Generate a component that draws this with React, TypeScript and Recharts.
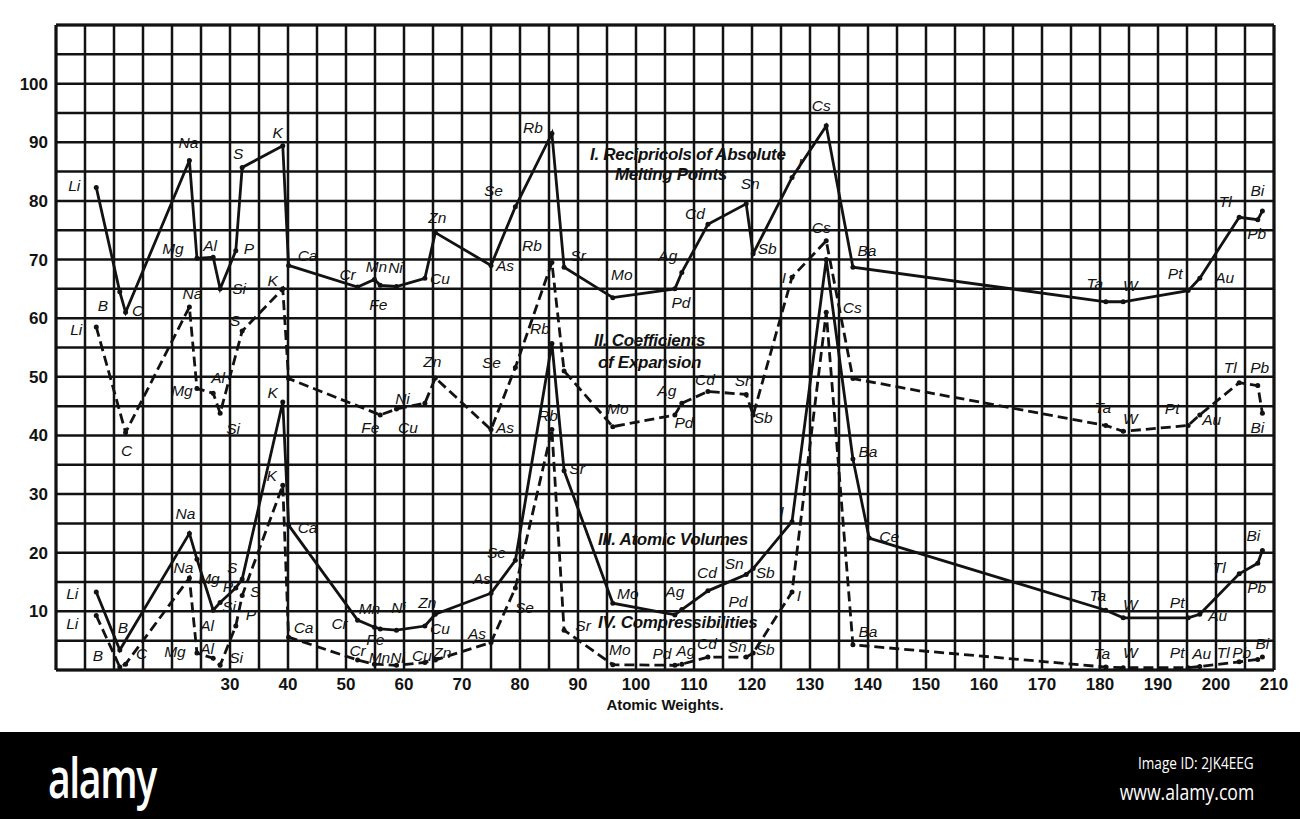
import { LineChart, Line, XAxis, YAxis, CartesianGrid, ReferenceLine } from 'recharts';

// atomic weights used for the horizontal position of every element
const atomicWeights: Record<string, number> = {
  Li: 6.94, B: 11, C: 12, Na: 23, Mg: 24.3, Al: 27.1, Si: 28.3, P: 31, S: 32.1,
  K: 39.1, Ca: 40.1, Cr: 52, Mn: 54.9, Fe: 55.9, Ni: 58.7, Cu: 63.6, Zn: 65.4,
  As: 75, Se: 79.2, Rb: 85.5, Sr: 87.6, Mo: 96, Pd: 106.7, Ag: 107.9, Cd: 112.4,
  Sn: 119, Sb: 120.2, I: 126.9, Cs: 132.8, Ba: 137.4, Ce: 140.2, Ta: 181, W: 184,
  Pt: 195.2, Au: 197.2, Tl: 204, Pb: 207.2, Bi: 208,
};

// I. reciprocals of absolute melting points
const meltingElements = ['Li', 'B', 'C', 'Na', 'Mg', 'Al', 'Si', 'P', 'S', 'K', 'Ca', 'Cr', 'Mn', 'Fe', 'Ni', 'Cu', 'Zn', 'As', 'Se', 'Rb', 'Sr', 'Mo', 'Pd', 'Ag', 'Cd', 'Sn', 'Sb', 'I', 'Cs', 'Ba', 'Ta', 'W', 'Pt', 'Au', 'Tl', 'Pb', 'Bi'];
const meltingValues = [82.3, 64.5, 61, 86.9, 70.2, 70.4, 65, 71.5, 85.7, 89.4, 69, 65.3, 66.6, 65.6, 65.4, 66.8, 74.6, 69, 79, 91.5, 68.7, 63.5, 65, 67.8, 76, 79.5, 71, 84, 92.8, 68.7, 62.8, 62.8, 64.7, 66.8, 77.2, 76.8, 78.3];

// II. coefficients of expansion
const expansionElements = ['Li', 'C', 'Na', 'Mg', 'Al', 'Si', 'S', 'K', 'Ca', 'Fe', 'Ni', 'Cu', 'Zn', 'As', 'Se', 'Rb', 'Sr', 'Mo', 'Pd', 'Ag', 'Cd', 'Sn', 'Sb', 'I', 'Cs', 'Ba', 'Ta', 'W', 'Pt', 'Au', 'Tl', 'Pb', 'Bi'];
const expansionValues = [58.5, 40.5, 61.9, 48, 47.2, 43.8, 57.8, 65, 49.7, 43.5, 44.5, 45.5, 49.8, 41, 51.6, 69.5, 51, 41.5, 43.5, 45.5, 47.5, 47, 43.5, 67, 73.2, 49.7, 41.7, 40.7, 41.7, 43.5, 49, 48.5, 43.8];

// III. atomic volumes
const volumeElements = ['Li', 'B', 'Na', 'Mg', 'Al', 'Si', 'P', 'S', 'K', 'Ca', 'Cr', 'Mn', 'Fe', 'Ni', 'Cu', 'Zn', 'As', 'Se', 'Rb', 'Sr', 'Mo', 'Pd', 'Ag', 'Cd', 'Sn', 'Sb', 'I', 'Cs', 'Ba', 'Ce', 'Ta', 'W', 'Pt', 'Au', 'Tl', 'Pb', 'Bi'];
const volumeValues = [13.3, 3.4, 23.3, 18.9, 10.2, 11.5, 14, 15.5, 45.7, 24.7, 8.5, 7.3, 7, 6.8, 7.5, 9.5, 13.1, 18.7, 55.7, 34, 11.4, 9.4, 10.3, 13.5, 16.3, 17.3, 25.3, 70, 36, 22.5, 10.2, 8.9, 8.9, 9.5, 16.4, 18.2, 20.4];

// IV. compressibilities
const compressElements = ['Li', 'B', 'C', 'Na', 'Mg', 'Al', 'Si', 'P', 'S', 'K', 'Ca', 'Cr', 'Mn', 'Ni', 'Cu', 'Zn', 'As', 'Se', 'Rb', 'Sr', 'Mo', 'Pd', 'Ag', 'Cd', 'Sn', 'Sb', 'I', 'Cs', 'Ba', 'Ta', 'W', 'Pt', 'Au', 'Tl', 'Pb', 'Bi'];
const compressValues = [9.3, 0.5, 1, 15.7, 2.9, 2, 0.8, 7.5, 12.7, 31.5, 5.6, 1.7, 1, 0.8, 1.3, 1.7, 4.7, 14, 41, 6.8, 0.9, 0.8, 1, 2.2, 2.2, 2.9, 13.3, 61, 4.3, 0.5, 0.4, 0.4, 0.6, 1.4, 1.8, 2.2];

const xTickLabels = [30, 40, 50, 60, 70, 80, 90, 100, 110, 120, 130, 140, 150, 160, 170, 180, 190, 200, 210];
const yTickLabels = [10, 20, 30, 40, 50, 60, 70, 80, 90, 100];
const xGridTicks = Array.from({ length: 43 }, (_, i) => i * 5);
const yGridTicks = Array.from({ length: 23 }, (_, i) => i * 5);

// where each element name sits relative to its point (pixels)
type Offsets = Record<string, [number, number]>;
const meltingOffsets: Offsets = {
  Li: [-22, -2], B: [-17, 14], C: [12, -2], Na: [-1, -18], Mg: [-24, -10], Al: [-3, -12], Si: [19, 0],
  P: [13, -2], S: [-4, -14], K: [-5, -13], Ca: [19, -10], Cr: [-10, -13], Mn: [2, -13], Fe: [-2, 19],
  Ni: [-1, -19], Cu: [15, 0], Zn: [2, -15], As: [14, 0], Se: [-22, -16], Rb: [-19, -6], Sr: [14, -12],
  Mo: [9, -23], Pd: [6, 14], Ag: [-14, -17], Cd: [-13, -11], Sn: [4, -20], Sb: [14, -5], I: [8, -14],
  Cs: [-5, -20], Ba: [14, -17], Ta: [-11, -18], W: [7, -16], Pt: [-13, -17], Au: [25, -1],
  Tl: [-14, -16], Pb: [-1, 14], Bi: [-5, -20],
};
const expansionOffsets: Offsets = {
  Li: [-20, 3], C: [1, 18], Na: [3, -14], Mg: [-15, 2], Al: [5, -16], Si: [13, 15], S: [-7, -11],
  K: [-10, -8], Fe: [-10, 13], Ni: [6, -11], Cu: [-17, 24], Zn: [-3, -16], As: [14, -2], Se: [-24, -5],
  Rb: [-20, -17], Mo: [5, -18], Pd: [9, 8], Ag: [-15, -13], Cd: [-3, -12], Sn: [-2, -14], Sb: [10, 3],
  I: [-8, 0], Cs: [-5, -13], Ta: [-3, -18], W: [7, -13], Pt: [-16, -17], Au: [12, 5], Tl: [-9, -15],
  Pb: [2, -18], Bi: [-5, 14],
};
const volumeOffsets: Offsets = {
  Li: [-24, 1], B: [3, -23], Na: [-4, -20], Mg: [12, 19], Al: [-6, 15], Si: [9, 4], P: [-8, -1],
  S: [-10, -12], K: [-10, -10], Ca: [19, 2], Cr: [-18, 3], Mn: [-5, -19], Fe: [-5, 11], Ni: [2, -23],
  Cu: [15, 2], Zn: [-8, -12], As: [-9, -15], Se: [-19, -8], Rb: [-12, -15], Sr: [13, -2], Mo: [15, -10],
  Pd: [63, -13], Ag: [-7, -18], Cd: [-1, -18], Sn: [-12, -11], Sb: [12, 4], I: [-10, -10], Ba: [15, -7],
  Ce: [20, -2], Ta: [-8, -15], W: [7, -13], Pt: [-11, -15], Au: [18, 1], Tl: [-20, -6], Pb: [-1, 24],
  Bi: [-9, -15],
};
const compressOffsets: Offsets = {
  Li: [-24, 8], B: [-22, -12], C: [16, -11], Na: [-6, -10], Mg: [-22, -1], Al: [-6, -10], Si: [16, -8],
  P: [15, -12], S: [13, -4], K: [-11, -10], Ca: [15, -10], Cr: [0, -10], Mn: [5, -7], Ni: [1, -8],
  Cu: [-3, -7], Zn: [7, -8], As: [-14, -9], Se: [9, 20], Rb: [-4, -14], Sr: [19, -5], Mo: [7, -15],
  Pd: [-13, -12], Ag: [4, -14], Cd: [-1, -14], Sn: [-9, -11], Sb: [12, -3], I: [7, 3], Cs: [26, -5],
  Ba: [15, -13], Ta: [-4, -14], W: [7, -15], Pt: [-11, -15], Au: [2, -13], Tl: [-16, -9], Pb: [-16, -7],
  Bi: [0, -14],
};

interface Point {
  el: string;
  w: number;
  v: number;
}

const build = (els: string[], vals: number[]): Point[] =>
  els.map((el, i) => ({ el, w: atomicWeights[el], v: vals[i] }));

const meltingData = build(meltingElements, meltingValues);
const expansionData = build(expansionElements, expansionValues);
const volumeData = build(volumeElements, volumeValues);
const compressData = build(compressElements, compressValues);

const INK = '#121212';
const labelFont = '"Liberation Sans", Arial, sans-serif';

const makeDot = (series: string, offsets: Offsets) => (props: any) => {
  const { cx, cy, payload, index } = props;
  const off = offsets[payload.el];
  return (
    <g key={`${series}-${index}`}>
      <circle cx={cx} cy={cy} r={2.5} fill={INK} />
      {off && (
        <text
          x={cx + off[0]}
          y={cy + off[1]}
          textAnchor="middle"
          dominantBaseline="central"
          fontSize={15.5}
          fontStyle="italic"
          fontFamily={labelFont}
          fill={INK}
        >
          {payload.el}
        </text>
      )}
    </g>
  );
};

const noteStyle = (left: number, top: number): React.CSSProperties => ({
  position: 'absolute',
  left,
  top,
  fontFamily: labelFont,
  fontStyle: 'italic',
  fontWeight: 700,
  fontSize: 17,
  letterSpacing: -0.3,
  color: INK,
  whiteSpace: 'nowrap',
  lineHeight: '18px',
});

export default function App() {
  return (
    <div style={{ position: 'absolute', left: 0, top: 0, width: 1300, height: 819, background: '#fff', overflow: 'hidden' }}>
      <LineChart width={1300} height={730} margin={{ top: 25, right: 26, bottom: 0, left: 0 }}>
        <CartesianGrid stroke={INK} strokeWidth={2.5} />
        <XAxis
          type="number"
          dataKey="w"
          domain={[0, 210]}
          ticks={xGridTicks}
          interval={0}
          tickFormatter={(v: number) => (xTickLabels.includes(v) ? String(v) : '')}
          tickLine={false}
          axisLine={{ stroke: INK, strokeWidth: 3 }}
          tick={{ fill: INK, fontSize: 17, fontWeight: 700, fontFamily: labelFont }}
          height={60}
          label={{ value: 'Atomic Weights.', position: 'insideBottom', offset: 20, fill: INK, fontSize: 15, fontWeight: 700, fontFamily: labelFont }}
        />
        <YAxis
          type="number"
          domain={[0, 110]}
          ticks={yGridTicks}
          interval={0}
          tickFormatter={(v: number) => (yTickLabels.includes(v) ? String(v) : '')}
          tickLine={false}
          axisLine={{ stroke: INK, strokeWidth: 3 }}
          tick={{ fill: INK, fontSize: 17, fontWeight: 700, fontFamily: labelFont }}
          width={56}
        />
        <ReferenceLine y={110} stroke={INK} strokeWidth={3} />
        <ReferenceLine x={210} stroke={INK} strokeWidth={3} />
        <Line data={meltingData} dataKey="v" type="linear" stroke={INK} strokeWidth={2.8} dot={makeDot('m', meltingOffsets)} activeDot={false} isAnimationActive={false} />
        <Line data={expansionData} dataKey="v" type="linear" stroke={INK} strokeWidth={2.8} strokeDasharray="10 5" dot={makeDot('e', expansionOffsets)} activeDot={false} isAnimationActive={false} />
        <Line data={volumeData} dataKey="v" type="linear" stroke={INK} strokeWidth={2.8} dot={makeDot('v', volumeOffsets)} activeDot={false} isAnimationActive={false} />
        <Line data={compressData} dataKey="v" type="linear" stroke={INK} strokeWidth={2.8} strokeDasharray="10 5" dot={makeDot('c', compressOffsets)} activeDot={false} isAnimationActive={false} />
      </LineChart>

      <div style={noteStyle(590, 146)}>I. Recipricols of Absolute</div>
      <div style={noteStyle(615, 166)}>Melting Points</div>
      <div style={noteStyle(594, 332)}>II. Coefficients</div>
      <div style={noteStyle(598, 354)}>of Expansion</div>
      <div style={noteStyle(598, 531)}>III. Atomic Volumes</div>
      <div style={noteStyle(598, 614)}>IV. Compressibilities</div>

      <div style={{ position: 'absolute', left: 0, top: 732, width: 1300, height: 87, background: '#000', color: '#fff', fontFamily: '"Open Sans", sans-serif' }}>
        <div style={{ position: 'absolute', left: 48, top: 6, fontSize: 56, fontWeight: 600, letterSpacing: -2, transform: 'scaleX(0.7)', transformOrigin: 'left top' }}>alamy</div>
        <div style={{ position: 'absolute', right: 46, top: 19, fontSize: 17, transform: 'scaleX(0.8)', transformOrigin: 'right top' }}>Image ID: 2JK4EEG</div>
        <div style={{ position: 'absolute', right: 46, top: 44, fontSize: 22, transform: 'scaleX(0.8)', transformOrigin: 'right top' }}>www.alamy.com</div>
      </div>
    </div>
  );
}
